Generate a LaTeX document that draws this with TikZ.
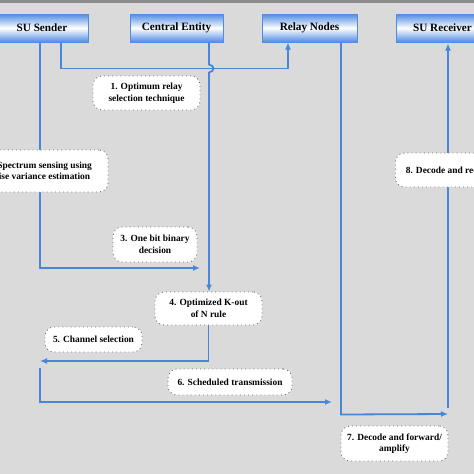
\documentclass[tikz,border=0pt]{standalone}
\usepackage{fontspec}
\setmainfont{Liberation Serif}
\usetikzlibrary{arrows.meta}
\pgfdeclarelayer{bg}
\pgfsetlayers{bg,main}
\definecolor{lineblue}{RGB}{74,134,216}
\definecolor{boxblue}{RGB}{80,140,226}
\definecolor{bggray}{RGB}{218,218,218}
\definecolor{topgray}{RGB}{140,140,140}
\definecolor{dotgray}{RGB}{110,110,110}
\tikzset{
  actor/.style={draw=boxblue, line width=1pt, top color=boxblue, bottom color=boxblue, middle color=white,
    minimum height=28pt, inner sep=0pt, font=\fontsize{11.2}{13}\selectfont\bfseries, text=black},
  lbl/.style={draw=dotgray, line width=0.9pt, dash pattern=on 0.9pt off 3.2pt, rounded corners=9pt, fill=white,
    inner sep=0pt, align=center, font=\fontsize{9.4}{11.5}\selectfont\bfseries, text=black},
  conn/.style={draw=lineblue, line width=1.8pt},
  arr/.style={conn, -{Latex[length=7pt,width=6pt]}}
}
\begin{document}
\begin{tikzpicture}[x=1pt,y=-1pt]
\useasboundingbox (0,0) rectangle (474,474);
\clip (0,0) rectangle (474,474);
\begin{pgfonlayer}{bg}
\fill[bggray] (0,0) rectangle (474,474);
\fill[topgray] (0,0) rectangle (474,3);
\end{pgfonlayer}

% actors
\node[actor, minimum width=92pt] (sender) at (42,28) {SU Sender};
\node[actor, minimum width=93pt] (central) at (176.5,28) {Central Entity};
\node[actor, minimum width=95pt] (relay) at (309.5,28) {Relay Nodes};
\node[actor, minimum width=93pt] (receiver) at (442.5,28) {SU Receiver};

% labels
\node[lbl, minimum width=107pt, minimum height=34pt] (l1) at (146.5,93) {1. Optimum relay\\selection technique};
\node[lbl, minimum width=137pt, minimum height=42pt] (l2) at (39.5,171) {2. Spectrum sensing using\\noise variance estimation};
\node[lbl, minimum width=84pt, minimum height=35pt] (l3) at (155,244.5) {3. One bit binary\\decision};
\node[lbl, minimum width=107pt, minimum height=33pt] (l4) at (208.5,308.5) {4. Optimized K-out\\of N rule};
\node[lbl, minimum width=97pt, minimum height=25pt] (l5) at (93.5,339.5) {5. Channel selection};
\node[lbl, minimum width=124pt, minimum height=26pt] (l6) at (230,382) {6. Scheduled transmission};
\node[lbl, minimum width=107pt, minimum height=35pt] (l7) at (394.5,443.5) {7. Decode and forward/\\amplify};
\node[lbl, minimum width=108pt, minimum height=34pt, anchor=west] (l8) at (395,170) {8. Decode and receive};

% coordinates
\coordinate (sA) at ([xshift=-2pt]sender.south);
\coordinate (sB) at ([xshift=19pt]sender.south);
\coordinate (rA) at ([xshift=-21.5pt]relay.south);
\coordinate (rB) at ([xshift=31.5pt]relay.south);
\coordinate (cA) at ([xshift=32.5pt]central.south);
\coordinate (l4b) at (l4.south);
\coordinate (e3) at (200,268);
\coordinate (e5) at (40,361);
\coordinate (s6) at (40,368);
\coordinate (e6) at (332,402);
\coordinate (s7) at (448,408);
\coordinate (recv) at ([xshift=5.5pt,yshift=-1pt]receiver.south);

% connectors (behind the labels)
\begin{pgfonlayer}{bg}
\draw[arr] (sA) -- (sA |- e3) -- (e3);
\draw[arr] (sB) -- ++(0,26) -| (rA);
\draw[arr] (cA) -- ++(0,22) .. controls ++(6,1) and ++(6,-1) .. ++(0,8) -- (cA |- l4.north);
\draw[arr] (l4b) -- (l4b |- e5) -- (e5);
\draw[arr] (s6) -- (s6 |- e6) -- (e6);
\draw[arr] (rB) -- ++(0,372) -- (448,414);
\draw[arr] (s7) -- (recv);
\end{pgfonlayer}
\end{tikzpicture}
\end{document}
